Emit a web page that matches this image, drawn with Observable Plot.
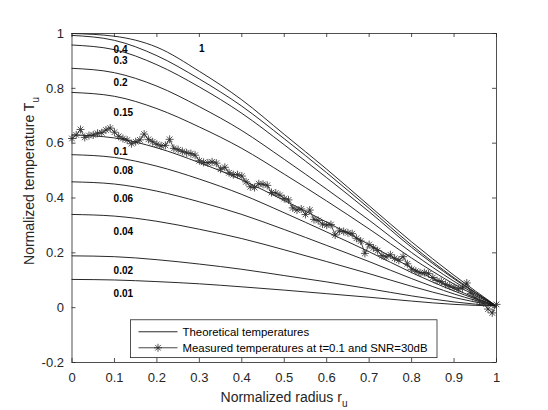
<!DOCTYPE html>
<html><head><meta charset="utf-8">
<script src="https://cdn.jsdelivr.net/npm/d3@7"></script>
<script src="https://cdn.jsdelivr.net/npm/@observablehq/plot@0.6"></script>
<style>
html,body{margin:0;padding:0;background:#fff;}
#chart{width:548px;height:410px;}
</style></head><body><div id="chart"></div>
<script>
// Normalized radius grid of the theoretical curves
const radius = [0, 0.1, 0.2, 0.3, 0.4, 0.5, 0.6, 0.7, 0.8, 0.9, 1.0];
// Theoretical temperatures, one array per time t
const T_1    = [1.000, 0.990, 0.950, 0.862, 0.758, 0.632, 0.505, 0.372, 0.240, 0.118, 0.006];
const T_040  = [0.993, 0.975, 0.919, 0.834, 0.735, 0.616, 0.492, 0.362, 0.228, 0.109, 0.006];
const T_030  = [0.958, 0.941, 0.886, 0.805, 0.709, 0.594, 0.474, 0.350, 0.220, 0.105, 0.006];
const T_020  = [0.873, 0.857, 0.808, 0.733, 0.646, 0.541, 0.432, 0.319, 0.201, 0.096, 0.006];
const T_015  = [0.785, 0.771, 0.726, 0.659, 0.581, 0.487, 0.389, 0.287, 0.181, 0.086, 0.006];
const T_010  = [0.630, 0.619, 0.583, 0.529, 0.466, 0.391, 0.312, 0.230, 0.145, 0.069, 0.006];
const T_008  = [0.558, 0.548, 0.516, 0.469, 0.413, 0.346, 0.276, 0.204, 0.128, 0.061, 0.006];
const T_006  = [0.459, 0.451, 0.425, 0.386, 0.340, 0.285, 0.227, 0.168, 0.106, 0.050, 0.006];
const T_004  = [0.340, 0.334, 0.315, 0.286, 0.252, 0.211, 0.168, 0.124, 0.078, 0.037, 0.006];
const T_002  = [0.189, 0.186, 0.175, 0.159, 0.140, 0.117, 0.094, 0.069, 0.043, 0.021, 0.006];
const T_001  = [0.103, 0.101, 0.095, 0.087, 0.076, 0.064, 0.051, 0.038, 0.024, 0.012, 0.006];
const curveTimes = ["1", "0.4", "0.3", "0.2", "0.15", "0.1", "0.08", "0.06", "0.04", "0.02", "0.01"];
const curveValues = [T_1, T_040, T_030, T_020, T_015, T_010, T_008, T_006, T_004, T_002, T_001];

// Measured temperatures at t=0.1, SNR=30dB
const measR = [0.00,0.01,0.02,0.03,0.04,0.05,0.06,0.07,0.08,0.09,0.10,0.11,0.12,0.13,0.14,0.15,0.16,0.17,0.18,0.19,
  0.20,0.21,0.22,0.23,0.24,0.25,0.26,0.27,0.28,0.29,0.30,0.31,0.32,0.33,0.34,0.35,0.36,0.37,0.38,0.39,
  0.40,0.41,0.42,0.43,0.44,0.45,0.46,0.47,0.48,0.49,0.50,0.51,0.52,0.53,0.54,0.55,0.56,0.57,0.58,0.59,
  0.60,0.61,0.62,0.63,0.64,0.65,0.66,0.67,0.68,0.69,0.70,0.71,0.72,0.73,0.74,0.75,0.76,0.77,0.78,0.79,
  0.80,0.81,0.82,0.83,0.84,0.85,0.86,0.87,0.88,0.89,0.90,0.91,0.92,0.93,0.94,0.95,0.96,0.97,0.98,0.99,1.00];
const measT = [0.617,0.630,0.650,0.621,0.628,0.630,0.636,0.638,0.648,0.655,0.640,0.625,0.617,0.611,0.598,0.605,0.612,0.633,0.614,0.605,
  0.596,0.590,0.592,0.614,0.581,0.576,0.570,0.565,0.562,0.556,0.536,0.530,0.528,0.532,0.527,0.505,0.512,0.492,0.485,0.485,
  0.480,0.459,0.441,0.438,0.452,0.450,0.446,0.420,0.418,0.410,0.398,0.393,0.364,0.356,0.360,0.340,0.356,0.322,0.318,0.305,
  0.301,0.303,0.265,0.280,0.278,0.273,0.270,0.253,0.243,0.198,0.230,0.218,0.208,0.190,0.185,0.193,0.180,0.173,0.186,0.160,
  0.140,0.133,0.127,0.128,0.124,0.110,0.099,0.095,0.085,0.079,0.074,0.068,0.072,0.090,0.052,0.036,0.024,0.017,-0.005,-0.019,0.012];

// Curve annotations (data coordinates)
const labelText = ["0.4", "0.3", "0.2", "0.15", "0.1", "0.08", "0.06", "0.04", "0.02", "0.01"];
const labelR    = [0.098, 0.098, 0.098, 0.098, 0.098, 0.098, 0.098, 0.098, 0.098, 0.098];
const labelT    = [0.941, 0.902, 0.819, 0.710, 0.567, 0.499, 0.398, 0.277, 0.134, 0.052];
const topLabel = ["1"]; const topLabelR = [0.306]; const topLabelT = [0.945];

// Axis ticks
const xTicks = [0, 0.1, 0.2, 0.3, 0.4, 0.5, 0.6, 0.7, 0.8, 0.9, 1];
const yTicks = [-0.2, 0, 0.2, 0.4, 0.6, 0.8, 1];

const theo = curveValues.flatMap((arr, i) => radius.map((x, j) => ({r: x, T: arr[j], t: curveTimes[i]})));
const meas = measR.map((x, i) => ({r: x, T: measT[i]}));
const labels = labelText.map((s, i) => ({s, r: labelR[i], T: labelT[i]}));
const labels1 = topLabel.map((s, i) => ({s, r: topLabelR[i], T: topLabelT[i]}));

const asterisk8 = {
  draw(ctx, size) {
    const r = Math.sqrt(size / Math.PI), d = r * 0.7071;
    ctx.moveTo(-r, 0); ctx.lineTo(r, 0);
    ctx.moveTo(0, -r); ctx.lineTo(0, r);
    ctx.moveTo(-d, -d); ctx.lineTo(d, d);
    ctx.moveTo(-d, d); ctx.lineTo(d, -d);
  }
};
const fmt = d => String(Math.round(d * 10) / 10);
const tx = 0.0094, ty = 0.0146; // inward tick lengths in data units
const mr = 4;

const plot = Plot.plot({
  width: 548, height: 410,
  marginLeft: 71.5, marginRight: 52, marginTop: 33, marginBottom: 48,
  style: {fontFamily: "'Liberation Sans', Arial, sans-serif", fontSize: "13px", color: "#262626", background: "white"},
  x: {domain: [0, 1]},
  y: {domain: [-0.2, 1]},
  marks: [
    Plot.axisX(xTicks, {tickSize: 0, tickPadding: 10, tickFormat: fmt, label: null, fontSize: 13}),
    Plot.axisY(yTicks, {tickSize: 0, tickPadding: 8, tickFormat: fmt, label: null, fontSize: 13}),
    Plot.ruleX(xTicks, {x: d => d, y1: -0.2, y2: -0.2 + ty, stroke: "#262626", strokeWidth: 0.8}),
    Plot.ruleX(xTicks, {x: d => d, y1: 1, y2: 1 - ty, stroke: "#262626", strokeWidth: 0.8}),
    Plot.ruleY(yTicks, {y: d => d, x1: 0, x2: tx, stroke: "#262626", strokeWidth: 0.8}),
    Plot.ruleY(yTicks, {y: d => d, x1: 1, x2: 1 - tx, stroke: "#262626", strokeWidth: 0.8}),
    Plot.line(theo, {x: "r", y: "T", z: "t", stroke: "#111", strokeWidth: 0.9, curve: "monotone-x"}),
    Plot.line(meas, {x: "r", y: "T", stroke: "#333", strokeWidth: 0.9}),
    Plot.dot(meas, {x: "r", y: "T", symbol: asterisk8, r: mr, stroke: "#2a2a2a", strokeWidth: 0.8, fill: "none"}),
    Plot.text(labels, {x: "r", y: "T", text: "s", textAnchor: "start", fontWeight: "bold", fontSize: 10, fill: "#000"}),
    Plot.text(labels1, {x: "r", y: "T", text: "s", fontWeight: "bold", fontSize: 10, fill: "#000"}),
    Plot.frame({stroke: "#262626", strokeWidth: 0.8})
  ]
});
document.getElementById("chart").appendChild(plot);

const svg = d3.select(plot);
const xs = plot.scale("x"), ys = plot.scale("y");
const font = "'Liberation Sans', Arial, sans-serif";

// Axis labels with subscripts
const xl = svg.append("text").attr("x", 284).attr("y", 402).attr("text-anchor", "middle")
  .attr("font-family", font).attr("font-size", 14).attr("fill", "#262626");
xl.append("tspan").text("Normalized radius r");
xl.append("tspan").attr("font-size", 10).attr("dy", 5).text("u");

const yl = svg.append("text").attr("transform", "translate(34,181) rotate(-90)").attr("text-anchor", "middle")
  .attr("font-family", font).attr("font-size", 14).attr("fill", "#262626");
yl.append("tspan").text("Normalized temperature T");
yl.append("tspan").attr("font-size", 10).attr("dy", 5).text("u");

// Legend
const lx0 = xs.apply(0.139), lx1 = xs.apply(0.861), ly0 = ys.apply(-0.046), ly1 = ys.apply(-0.184);
const lg = svg.append("g");
lg.append("rect").attr("x", lx0).attr("y", ly0).attr("width", lx1 - lx0).attr("height", ly1 - ly0)
  .attr("fill", "white").attr("stroke", "#262626").attr("stroke-width", 0.8);
const row1 = ly0 + 12, row2 = ly0 + 28;
lg.append("line").attr("x1", lx0 + 8).attr("x2", lx0 + 47).attr("y1", row1).attr("y2", row1)
  .attr("stroke", "#111").attr("stroke-width", 0.9);
lg.append("line").attr("x1", lx0 + 8).attr("x2", lx0 + 47).attr("y1", row2).attr("y2", row2)
  .attr("stroke", "#333").attr("stroke-width", 0.9);
lg.append("path").attr("transform", `translate(${lx0 + 27.5},${row2})`)
  .attr("d", (() => { const p = d3.path(); asterisk8.draw(p, Math.PI * mr * mr); return p.toString(); })())
  .attr("stroke", "#2a2a2a").attr("stroke-width", 0.8).attr("fill", "none");
lg.append("text").attr("x", lx0 + 52).attr("y", row1).attr("dy", "0.35em").attr("text-anchor", "start")
  .attr("font-family", font).attr("font-size", 11.4).attr("fill", "#000").text("Theoretical temperatures");
lg.append("text").attr("x", lx0 + 52).attr("y", row2).attr("dy", "0.35em").attr("text-anchor", "start")
  .attr("font-family", font).attr("font-size", 11.4).attr("fill", "#000").text("Measured temperatures at t=0.1 and SNR=30dB");
</script></body></html>
